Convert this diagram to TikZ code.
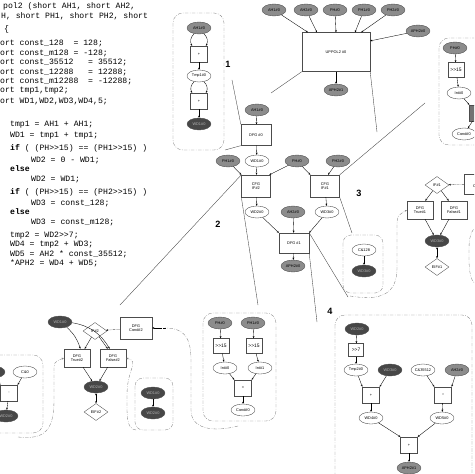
\documentclass[tikz,border=0pt]{standalone}
\usepackage{fontspec}
\setmainfont{Liberation Sans}
\setmonofont{Liberation Mono}
\usetikzlibrary{shapes.geometric,arrows.meta}

\newcommand\shr{>\kern0pt>}
\newcommand\nodefont{\fontsize{5.5}{6}\selectfont}

\tikzset{
  gin/.style={ellipse, draw=black!70, fill=black!45, minimum width=12mm, minimum height=6mm, inner sep=0pt, font=\nodefont},
  dout/.style={gin, fill=black!72, text=black!30},
  wvar/.style={gin, fill=white},
  op/.style={rectangle, draw=black!70, fill=white, minimum width=8.5mm, minimum height=8mm, inner sep=0pt, font=\nodefont},
  shiftop/.style={op, minimum width=8mm, minimum height=7.5mm, font=\fontsize{7}{7}\selectfont},
  blk/.style={rectangle, draw=black!70, fill=white, minimum width=15mm, minimum height=10.5mm, inner sep=0pt, align=center, font=\nodefont},
  tf/.style={blk, minimum width=13mm, minimum height=9mm},
  cnd/.style={diamond, draw=black!70, fill=white, minimum width=12mm, minimum height=8.5mm, inner sep=0pt, font=\nodefont},
  grp/.style={draw=black!50, dash pattern=on 5pt off 2pt on 1pt off 2pt, rounded corners=5mm},
  flow/.style={draw=black!50, dash pattern=on 5pt off 2pt on 1pt off 2pt},
  zoomline/.style={draw=black!75, line width=0.5pt},
  code/.style={anchor=west, inner sep=0pt, font=\ttfamily\fontsize{11.6}{13}\selectfont},
  num/.style={font=\bfseries\fontsize{13}{13}\selectfont},
}

\begin{document}
\begin{tikzpicture}[x=0.5mm, y=-0.5mm, >={Stealth[length=3pt,width=2.5pt]}, line width=0.5pt]
\useasboundingbox (0,0) rectangle (474,474);
\clip (0,0) rectangle (474,474);

% source code
\node[code] (src1) at (3,6) {pol2 (short AH1, short AH2,};
\node[code] (src2) at (1,16) {H, short PH1, short PH2, short};
\node[code] (src3) at (4,29) {\{};
\node[code] (src4) at (0,43) {ort const\_128~~= 128;};
\node[code] (src5) at (0,53) {ort const\_m128 = -128;};
\node[code] (src6) at (0,62) {ort const\_35512~~~= 35512;};
\node[code] (src7) at (0,72) {ort const\_12288~~~= 12288;};
\node[code] (src8) at (0,81) {ort const\_m12288~~= -12288;};
\node[code] (src9) at (0,91) {ort tmp1,tmp2;};
\node[code] (src10) at (0,101) {ort WD1,WD2,WD3,WD4,5;};
\node[code] (src11) at (10,125) {tmp1 = AH1 + AH1;};
\node[code] (src12) at (10,136) {WD1 = tmp1 + tmp1;};
\node[code] (src13) at (10,148) {\textbf{if} ( (PH\shr15) == (PH1\shr15) )};
\node[code] (src14) at (31,160) {WD2 = 0 - WD1;};
\node[code] (src15) at (10,169) {\textbf{else}};
\node[code] (src16) at (31,179) {WD2 = WD1;};
\node[code] (src17) at (10,192) {\textbf{if} ( (PH\shr15) == (PH2\shr15) )};
\node[code] (src18) at (31,203) {WD3 = const\_128;};
\node[code] (src19) at (10,212) {\textbf{else}};
\node[code] (src20) at (31,222) {WD3 = const\_m128;};
\node[code] (src21) at (10,236) {tmp2 = WD2\shr7;};
\node[code] (src22) at (10,245) {WD4 = tmp2 + WD3;};
\node[code] (src23) at (10,254) {WD5 = AH2 * const\_35512;};
\node[code] (src24) at (10,263) {*APH2 = WD4 + WD5;};

% group 1
\draw[grp] (173,13) rectangle (224,150);
\node[gin] (b1a) at (199,28) {AH1\#0};
\node[op] (b1p) at (199,54) {+};
\node[wvar] (b1t) at (199,76) {Tmp1\#0};
\node[op] (b1q) at (199,101) {+};
\node[dout] (b1w) at (199,124) {WD1\#0};
\draw[->] (b1a) to[bend right=40] (b1p);
\draw[->] (b1a) to[bend left=40] (b1p);
\draw[->] (b1p) -- (b1t);
\draw[->] (b1t) to[bend right=40] (b1q);
\draw[->] (b1t) to[bend left=40] (b1q);
\draw[->] (b1q) -- (b1w);

% top level
\node[rectangle, draw=black!70, fill=white, minimum width=34mm, minimum height=19.5mm, font=\nodefont] (up) at (336,52) {UPPOL2 \#0};
\node[gin] (u1) at (274,10) {AH1\#0};
\node[gin] (u2) at (306,10) {AH2\#0};
\node[gin] (u3) at (335,10) {PH\#0};
\node[gin] (u4) at (364,10) {PH1\#0};
\node[gin] (u5) at (393,10) {PH2\#0};
\node[gin] (u6) at (418,31) {APH2\#0};
\node[gin] (uo) at (336,90) {APH2\#1};
\draw[->] (u1) -- (up.145);
\draw[->] (u2) -- (up.134);
\draw[->] (u3) -- (up.north);
\draw[->] (u4) -- (up.46);
\draw[->] (u5) -- (up.38);
\draw[->] (u6) -- (up.18);
\draw[->] (up) -- (uo);

% middle graph
\node[gin] (d0a) at (257,110) {AH1\#0};
\node[blk] (d0) at (256,135) {DFG \#0};
\node[gin] (m1) at (228,161) {PH1\#0};
\node[wvar] (m2) at (257,161) {WD1\#0};
\node[gin] (m3) at (297,161) {PH\#0};
\node[gin] (m4) at (338,161) {PH2\#0};
\node[blk, minimum width=14.5mm, minimum height=11mm] (c2) at (256,186) {CFG\\IF\#2};
\node[blk, minimum width=14.5mm, minimum height=11mm] (c1) at (325,186) {CFG\\IF\#1};
\node[wvar] (w2) at (257,212) {WD2\#0};
\node[gin] (a2) at (293,212) {AH2\#0};
\node[wvar] (w3) at (327,212) {WD3\#0};
\node[blk, minimum height=10mm] (d1) at (294,243) {DFG \#1};
\node[gin] (ao) at (293,266) {APH2\#0};
\draw[->] (d0a) -- (d0);
\draw[->] (d0) -- (m2);
\draw[->] (m1) -- (c2.north west);
\draw[->] (m2) -- (c2);
\draw[->] (m3) -- (c2.40);
\draw[->] (m3) -- (c1.north west);
\draw[->] (m4) -- (c1.75);
\draw[->] (c2) -- (w2);
\draw[->] (c1) -- (w3);
\draw[->] (w2) -- (d1.north west);
\draw[->] (a2) -- (d1);
\draw[->] (w3) -- (d1.north east);
\draw[->] (d1) -- (ao);

% zoom lines
\coordinate (z1) at (232,80);
\coordinate (z2) at (225,150);
\coordinate (z3) at (271,93);
\coordinate (z4) at (377,132);
\coordinate (z5) at (120,305);
\coordinate (z6) at (258,305);
\coordinate (z7) at (425,103);
\coordinate (z8) at (352,233);
\coordinate (z9) at (348,297);
\coordinate (z10) at (317,322);
\draw[zoomline] (z1) -- (d0.north west);
\draw[zoomline] (d0.south west) -- (z2);
\draw[zoomline] (up.south west) -- (z3);
\draw[zoomline] (up.south east) -- (z4);
\draw[zoomline] (c2.north west) -- (z5);
\draw[zoomline] (c2.south west) -- (z6);
\draw[zoomline] (c1.north east) -- (z7);
\draw[zoomline] (c1.south east) -- (z8);
\draw[zoomline] (d1.north east) -- (z9);
\draw[zoomline] (d1.south east) -- (z10);
\node[num] (lab1) at (228,64) {1};
\node[num] (lab2) at (218,224) {2};
\node[num] (lab3) at (359,193) {3};
\node[num] (lab4) at (330,311) {4};

% condition of IF#1
\draw[grp] (439,38) rectangle (520,145);
\node[gin] (r1) at (455,48) {PH\#0};
\node[shiftop] (r2) at (456,70) {\shr15};
\node[wvar] (r3) at (459,93) {Int\#0};
\node[op, fill=black!55] (r4) at (478,113) {};
\node[wvar] (r5) at (464,134) {Cond\#0};
\draw[->] (r1) -- (r2);
\draw[->] (r2) -- (r3);
\draw[->] (r3) -- (r4.north west);
\draw[->] (r4) -- (r5);

% IF#1
\node[blk, minimum width=16mm, minimum height=10mm] (h0) at (480,184) {DFG\\Cond\#1};
\node[cnd] (h1) at (437,185) {IF\#1};
\node[tf] (h3) at (420,210) {DFG\\True\#1};
\node[tf] (h4) at (454,210) {DFG\\False\#1};
\node[dout] (h5) at (437,241) {WD3\#0};
\node[cnd] (h6) at (437,267) {EIF\#1};
\draw[densely dotted, ->] (h0) -- (h1);
\draw[->] (h1) -- (h3.60);
\draw[->] (h1) -- (h4.120);
\draw[->] (h3) -- (h5);
\draw[->] (h4) -- (h5);
\draw[<->] (h5) -- (h6);

% true branch of IF#1
\draw[grp, rounded corners=4mm] (343,235) rectangle (383,293);
\node[wvar] (g1) at (364,250) {C\&128};
\node[dout] (g2) at (364,271) {WD3\#0};
\draw[->] (g1) -- (g2);
\coordinate (f4s) at (350,296);
\draw[flow, ->] (f4s) .. controls (380,301) and (397,295) .. (397,268) -- (397,228) .. controls (397,216) .. (h3.west);
\coordinate (f5s) at (478,285);
\coordinate (f5e) at (478,226);
\draw[flow] (f5s) .. controls (468,283) and (469,263) .. (469,248) .. controls (469,234) and (473,228) .. (f5e);

% condition of IF#2
\draw[grp] (203,313) rectangle (276,421);
\node[gin] (q1) at (220,323) {PH\#0};
\node[gin] (q2) at (253,323) {PH1\#0};
\node[shiftop] (q3) at (221,346) {\shr15};
\node[shiftop] (q4) at (254,346) {\shr15};
\node[wvar] (q5) at (225,368) {Int\#0};
\node[wvar] (q6) at (260,368) {Int\#1};
\node[op] (q7) at (243,388) {=};
\node[wvar] (q8) at (243,410) {Cond\#0};
\draw[->] (q1) -- (q3);
\draw[->] (q2) -- (q4);
\draw[->] (q3) -- (q5);
\draw[->] (q4) -- (q6);
\draw[->] (q5) -- (q7.north west);
\draw[->] (q6) -- (q7.north east);
\draw[->] (q7) -- (q8);

% IF#2
\node[blk, minimum width=16mm, minimum height=11mm] (k0) at (136,328) {DFG\\Cond\#2};
\node[cnd] (k1) at (95,331) {IF\#2};
\node[dout] (k2) at (60,322) {WD1\#0};
\node[tf] (k3) at (77,358) {DFG\\True\#2};
\node[tf] (k4) at (113,358) {DFG\\False\#2};
\node[dout] (k5) at (96,387) {WD2\#0};
\node[cnd] (k6) at (96,412) {EIF\#2};
\coordinate (f3e) at (165,328);
\draw[densely dotted, ->] (f3e) -- (k0);
\draw[densely dotted, ->] (k0) -- (k1);
\draw[->] (k2) to[bend left=15] (k3.70);
\draw[->] (k2) to[bend left=25] (k4.110);
\draw[->] (k1) -- (k3.50);
\draw[->] (k1) -- (k4.120);
\draw[->] (k3) -- (k5);
\draw[->] (k4) -- (k5);
\draw[<->] (k5) -- (k6);
\coordinate (f3s) at (238,426);
\draw[flow] (f3s) .. controls (215,432) and (191,430) .. (191,410) -- (191,360) .. controls (191,335) and (182,328) .. (f3e);

% true branch of IF#2
\draw[grp] (-30,355) rectangle (43,433);
\node[dout] (e1) at (-7,372) {WD1\#0};
\node[wvar] (e2) at (25,372) {C\&0};
\node[op] (e3) at (9,393) {-};
\node[dout] (e4) at (6,416) {WD2\#0};
\draw[->] (e1) -- (e3.north west);
\draw[->] (e2) -- (e3.north east);
\draw[->] (e3) -- (e4);
\coordinate (f1s) at (18,437);
\draw[flow, ->] (f1s) .. controls (45,440) and (54,430) .. (54,400) -- (54,372) .. controls (54,362) .. (k3.west);

% false branch of IF#2
\draw[grp, rounded corners=4mm] (135,378) rectangle (173,430);
\node[dout] (v1) at (153,393) {WD1\#0};
\node[dout] (v2) at (153,413) {WD2\#0};
\draw[->] (v1) -- (v2);
\coordinate (f2s) at (136,430);
\draw[flow, ->] (f2s) .. controls (126,429) and (127,415) .. (127,395) .. controls (127,368) and (140,362) .. (k4.east);

% DFG #1
\draw[grp] (335,315) rectangle (472,500);
\node[dout] (s1) at (357,329) {WD2\#0};
\node[shiftop, minimum width=7.5mm, minimum height=6.5mm] (s2) at (356,350) {\shr7};
\node[wvar] (s3) at (356,370) {Tmp2\#0};
\node[dout] (s4) at (390,370) {WD3\#0};
\node[op] (s5) at (371,395) {+};
\node[wvar] (s6) at (371,418) {WD4\#0};
\node[wvar] (s7) at (423,370) {C\&35512};
\node[gin] (s8) at (457,370) {AH2\#0};
\node[op] (s9) at (443,395) {*};
\node[wvar] (s10) at (442,418) {WD5\#0};
\node[op] (s11) at (409,445) {+};
\node[gin] (s12) at (409,468) {APH2\#1};
\draw[->] (s1) -- (s2);
\draw[->] (s2) -- (s3);
\draw[->] (s3) -- (s5.north west);
\draw[->] (s4) -- (s5.north east);
\draw[->] (s5) -- (s6);
\draw[->] (s7) -- (s9.north west);
\draw[->] (s8) -- (s9.north east);
\draw[->] (s9) -- (s10);
\draw[->] (s6) -- (s11.north west);
\draw[->] (s10) -- (s11.north east);
\draw[->] (s11) -- (s12);
\end{tikzpicture}
\end{document}
